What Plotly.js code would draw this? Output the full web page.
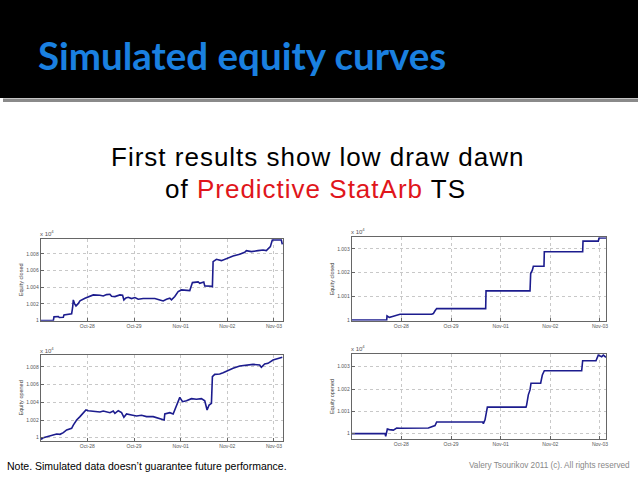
<!DOCTYPE html>
<html>
<head>
<meta charset="utf-8">
<script src="https://cdn.plot.ly/plotly-3.0.1.min.js"></script>
<style>html,body{margin:0;padding:0;background:#fff;}#chart{width:638px;height:478px;}</style>
</head>
<body>
<div id="chart"></div>
<script>
// Trading-day index (0 = Oct-27 open) and equity in units of 10^4
const dayTicks = [1, 2, 3, 4, 5];
const dayLabels = ['Oct-28', 'Oct-29', 'Nov-01', 'Nov-02', 'Nov-03'];

const tlX = [0,0.271,0.285,0.378,0.399,0.485,0.499,0.592,0.663,0.685,0.699,0.728,0.756,0.799,0.842,0.949,1.056,1.127,1.270,1.341,1.412,1.484,1.519,1.591,1.698,1.755,1.783,1.826,1.876,1.947,2.019,2.090,2.197,2.340,2.447,2.553,2.625,2.696,2.767,2.803,2.874,2.946,3.017,3.195,3.224,3.252,3.374,3.409,3.495,3.516,3.666,3.680,3.695,3.766,3.873,3.980,4.123,4.265,4.372,4.408,4.515,4.658,4.765,4.836,4.872,4.922,4.964,5.157,5.178];
const tlY = [1.0000,1.0000,1.00044,1.00048,1.00036,1.0004,1.00068,1.00076,1.0008,1.0016,1.00248,1.002,1.00176,1.002,1.00236,1.00268,1.00288,1.00308,1.00304,1.00296,1.00312,1.00316,1.00292,1.00288,1.00308,1.00304,1.00248,1.00272,1.0028,1.00264,1.00276,1.00256,1.00264,1.0026,1.00264,1.00248,1.00236,1.00256,1.00268,1.00248,1.00288,1.00348,1.00368,1.0036,1.00424,1.00456,1.00464,1.00448,1.00464,1.00416,1.00412,1.00408,1.00708,1.00736,1.0072,1.00748,1.00776,1.00796,1.0082,1.0084,1.00828,1.0084,1.00848,1.0084,1.00856,1.00888,1.00968,1.00968,1.00916];

const trX = [0,0.705,0.711,0.758,0.805,0.872,0.919,0.973,1.611,1.644,1.678,1.711,2.698,2.705,3.591,3.604,3.638,3.658,3.872,3.879,4.651,4.658,4.966,4.980,5.121];
const trY = [1.0,1.0,1.00017,1.00011,1.00014,1.00018,1.00022,1.00024,1.00024,1.00027,1.00039,1.00048,1.00048,1.00123,1.00123,1.00196,1.0021,1.00227,1.00227,1.00288,1.00288,1.00333,1.00333,1.00346,1.00346];

const blX = [0,0.021,0.057,0.128,0.2,0.271,0.342,0.414,0.485,0.556,0.628,0.663,0.699,0.770,0.842,0.913,0.970,1.020,1.127,1.270,1.341,1.412,1.484,1.555,1.591,1.662,1.733,1.783,1.840,1.947,2.054,2.161,2.268,2.411,2.553,2.646,2.660,2.767,2.839,2.896,2.981,3.039,3.124,3.231,3.338,3.445,3.516,3.566,3.609,3.659,3.680,3.730,3.837,3.909,3.980,4.051,4.123,4.265,4.408,4.551,4.693,4.729,4.800,4.872,4.979,5.086,5.178];
const blY = [0.99992,0.99985,1.0,1.00011,1.00019,1.00038,1.00041,1.00038,1.00057,1.00087,1.00094,1.00106,1.00143,1.002,1.00238,1.00275,1.00313,1.00305,1.00302,1.0029,1.00302,1.00294,1.00283,1.00302,1.00275,1.00305,1.00283,1.0023,1.00268,1.00256,1.00245,1.00253,1.00238,1.00238,1.00219,1.002,1.00268,1.00283,1.00268,1.00351,1.00456,1.00407,1.00418,1.00441,1.00434,1.00441,1.00418,1.00313,1.00369,1.00388,1.0069,1.00716,1.0072,1.00735,1.00754,1.00773,1.00784,1.0081,1.00818,1.00829,1.00822,1.00795,1.00833,1.00841,1.00878,1.00897,1.00909];

const brX = [0,0.671,0.685,0.718,0.758,0.839,0.906,0.973,1.544,1.611,1.678,1.711,2.638,2.651,2.685,2.732,3.510,3.523,3.557,3.591,3.611,3.805,3.839,3.879,4.631,4.651,4.919,4.966,5.034,5.067,5.121];
const brY = [1.0,1.0,0.99988,1.00021,1.00018,1.00016,1.00025,1.00024,1.00025,1.00031,1.00036,1.00052,1.00052,1.00045,1.00062,1.00119,1.00119,1.00129,1.00174,1.00196,1.00226,1.00226,1.00263,1.00282,1.00282,1.00327,1.00327,1.00352,1.00345,1.00352,1.00342];

const ytickBig = [1, 1.002, 1.004, 1.006, 1.008];
const ytickBigText = ['1', '1.002', '1.004', '1.006', '1.008'];
const ytickSmall = [1, 1.001, 1.002, 1.003];
const ytickSmallText = ['1', '1.001', '1.002', '1.003'];

const lineColor = '#1c1c8e';
const tickFont = {family: 'Liberation Sans Narrow, Liberation Sans, Arial', size: 5, color: '#555'};

function tr(x, y, xa, ya) {
  return {x: x, y: y, xaxis: xa, yaxis: ya, type: 'scatter', mode: 'lines',
          line: {color: lineColor, width: 1.6}, hoverinfo: 'skip', showlegend: false};
}
function xax(domain, range, anchor) {
  return {domain: domain, range: range, anchor: anchor, tickvals: dayTicks, ticktext: dayLabels,
          showgrid: true, gridcolor: '#c8c8c8', griddash: 'dot', gridwidth: 1,
          showline: true, linecolor: '#666', linewidth: 1, mirror: true,
          ticks: 'inside', ticklen: 3, tickcolor: '#666', tickfont: tickFont, zeroline: false, fixedrange: true};
}
function yax(domain, range, anchor, vals, texts, title) {
  return {domain: domain, range: range, anchor: anchor, tickvals: vals, ticktext: texts,
          showgrid: true, gridcolor: '#c8c8c8', griddash: 'dot', gridwidth: 1,
          showline: true, linecolor: '#666', linewidth: 1, mirror: true,
          ticks: 'inside', ticklen: 3, tickcolor: '#666', tickfont: tickFont, zeroline: false, fixedrange: true,
          title: {text: title, font: {family: 'Liberation Sans, Arial', size: 5.5, color: '#444'}, standoff: 2}};
}

const W = 638, H = 478;
const px = v => v / W;
const py = v => 1 - v / H;

const data = [
  tr(tlX, tlY, 'x', 'y'),
  tr(trX, trY, 'x2', 'y2'),
  tr(blX, blY, 'x3', 'y3'),
  tr(brX, brY, 'x4', 'y4')
];

const layout = {
  width: W, height: H,
  margin: {l: 0, r: 0, t: 0, b: 0},
  paper_bgcolor: '#ffffff', plot_bgcolor: '#ffffff',
  showlegend: false,
  xaxis: xax([px(40.7), px(283)], [0, 5.193], 'y'),
  yaxis: yax([py(320.7), py(239)], [0.99998, 1.0098], 'x', ytickBig, ytickBigText, 'Equity closed'),
  xaxis2: xax([px(351.7), px(606)], [0, 5.121], 'y2'),
  yaxis2: yax([py(320.7), py(237.3)], [0.99997, 1.00349], 'x2', ytickSmall, ytickSmallText, 'Equity closed'),
  xaxis3: xax([px(40.7), px(283)], [0, 5.193], 'y3'),
  yaxis3: yax([py(440.7), py(355)], [0.99966, 1.00935], 'x3', ytickBig, ytickBigText, 'Equity opened'),
  xaxis4: xax([px(351.7), px(606)], [0, 5.121], 'y4'),
  yaxis4: yax([py(439), py(354)], [0.99976, 1.00357], 'x4', ytickSmall, ytickSmallText, 'Equity opened'),
  shapes: [
    {type: 'rect', xref: 'paper', yref: 'paper', x0: 0, x1: 1, y0: py(98), y1: 1,
     fillcolor: '#000000', line: {width: 0}, layer: 'below'},
    {type: 'rect', xref: 'paper', yref: 'paper', x0: px(3), x1: 1, y0: py(102), y1: py(98.5),
     fillcolor: '#8a8a8a', line: {width: 0}, layer: 'below'}
  ],
  annotations: [
    {text: '<b>Simulated equity curves</b>', xref: 'paper', yref: 'paper', x: px(36), y: py(55),
     xanchor: 'left', yanchor: 'middle', showarrow: false,
     font: {family: 'Lato, Open Sans, sans-serif', size: 38.5, color: '#1a80e0'}},
    {text: '<span style="letter-spacing:1px">First results show low draw dawn</span>', xref: 'paper', yref: 'paper', x: px(317.5), y: py(157),
     xanchor: 'center', yanchor: 'middle', showarrow: false,
     font: {family: 'Liberation Sans, Arial', size: 26, color: '#000'}},
    {text: '<span style="letter-spacing:1px">of <span style="color:#e0161b">Predictive StatArb</span> TS</span>', xref: 'paper', yref: 'paper', x: px(315), y: py(189),
     xanchor: 'center', yanchor: 'middle', showarrow: false,
     font: {family: 'Liberation Sans, Arial', size: 26, color: '#000'}},
    {text: 'x 10<sup>4</sup>', xref: 'paper', yref: 'paper', x: px(38), y: py(233), xanchor: 'left', yanchor: 'middle', showarrow: false, font: {family: 'Liberation Sans, Arial', size: 6, color: '#555'}},
    {text: 'x 10<sup>4</sup>', xref: 'paper', yref: 'paper', x: px(349), y: py(231), xanchor: 'left', yanchor: 'middle', showarrow: false, font: {family: 'Liberation Sans, Arial', size: 6, color: '#555'}},
    {text: 'x 10<sup>4</sup>', xref: 'paper', yref: 'paper', x: px(38), y: py(350), xanchor: 'left', yanchor: 'middle', showarrow: false, font: {family: 'Liberation Sans, Arial', size: 6, color: '#555'}},
    {text: 'x 10<sup>4</sup>', xref: 'paper', yref: 'paper', x: px(349), y: py(348), xanchor: 'left', yanchor: 'middle', showarrow: false, font: {family: 'Liberation Sans, Arial', size: 6, color: '#555'}},
    {text: 'Note. Simulated data doesn\u2019t guarantee future performance.', xref: 'paper', yref: 'paper', x: px(5), y: py(465.5),
     xanchor: 'left', yanchor: 'middle', showarrow: false, font: {family: 'Liberation Sans, Arial', size: 10.5, color: '#000'}},
    {text: 'Valery Tsourikov 2011 (c). All rights reserved', xref: 'paper', yref: 'paper', x: px(632), y: py(465.5),
     xanchor: 'right', yanchor: 'middle', showarrow: false, font: {family: 'Liberation Sans, Arial', size: 8.2, color: '#888'}}
  ]
};

Plotly.newPlot('chart', data, layout, {staticPlot: true, displayModeBar: false});
</script>
</body>
</html>
